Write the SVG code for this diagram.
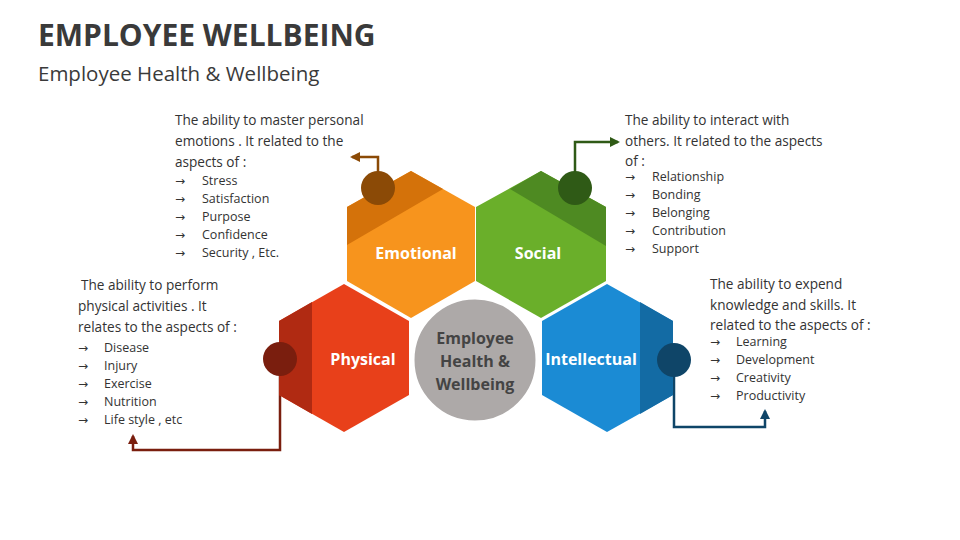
<svg xmlns="http://www.w3.org/2000/svg" width="960" height="540" viewBox="0 0 960 540">
<style>
text{font-family:"Open Sans","Liberation Sans",sans-serif;fill:#333}
.p{font-size:13.6px}
.l{font-size:12.5px}
.ar{font-family:"DejaVu Sans",sans-serif;font-size:12px}
.h{font-size:16px;font-weight:bold;fill:#fff;text-anchor:middle}
.c{font-size:16px;font-weight:bold;fill:#444;text-anchor:middle}
.ln{fill:none;stroke-width:2.5}
</style>
<defs>
<marker id="a1" viewBox="0 0 10 10" refX="8" refY="5" markerWidth="4" markerHeight="4" orient="auto"><path d="M0,0L10,5L0,10z" fill="#8B4A06"/></marker>
<marker id="a2" viewBox="0 0 10 10" refX="8" refY="5" markerWidth="4" markerHeight="4" orient="auto"><path d="M0,0L10,5L0,10z" fill="#2F5A16"/></marker>
<marker id="a3" viewBox="0 0 10 10" refX="8" refY="5" markerWidth="4" markerHeight="4" orient="auto"><path d="M0,0L10,5L0,10z" fill="#7A1E0E"/></marker>
<marker id="a4" viewBox="0 0 10 10" refX="8" refY="5" markerWidth="4" markerHeight="4" orient="auto"><path d="M0,0L10,5L0,10z" fill="#0F4568"/></marker>
</defs>
<rect width="960" height="540" fill="#fff"/>
<text x="38" y="46" style="font-size:30px;font-weight:bold;fill:#3a3a3a">EMPLOYEE WELLBEING</text>
<text x="38" y="81" style="font-size:20.5px;fill:#3a3a3a">Employee Health &amp; Wellbeing</text>

<g id="connectors">
<path class="ln" stroke="#8B4A06" d="M378,172V157H352" marker-end="url(#a1)"/>
<path class="ln" stroke="#2F5A16" d="M575,172V142H618" marker-end="url(#a2)"/>
<path class="ln" stroke="#7A1E0E" d="M280,375V450H133V436" marker-end="url(#a3)"/>
<path class="ln" stroke="#0F4568" d="M674,376V427H765V411" marker-end="url(#a4)"/>
</g>

<g id="emotional">
<polygon points="411,171 475,207 475,281 411,318 347,281 347,207" fill="#F7941D"/>
<polygon points="347,245 347,207 411,171 443,189" fill="#D4720A"/>
<circle cx="378" cy="188" r="17" fill="#8B4A06"/>
<text class="h" x="416" y="259">Emotional</text>
<text class="p" x="175" y="125">The ability to master personal</text>
<text class="p" x="175" y="146">emotions . It related to the</text>
<text class="p" x="175" y="167">aspects of :</text>
<text class="ar" x="175" y="185">→</text><text class="l" x="202" y="185">Stress</text>
<text class="ar" x="175" y="203">→</text><text class="l" x="202" y="203">Satisfaction</text>
<text class="ar" x="175" y="221">→</text><text class="l" x="202" y="221">Purpose</text>
<text class="ar" x="175" y="239">→</text><text class="l" x="202" y="239">Confidence</text>
<text class="ar" x="175" y="257">→</text><text class="l" x="202" y="257">Security , Etc.</text>
</g>

<g id="social">
<polygon points="541,171 606,207 606,281 541,318 476,281 476,207" fill="#6AAF2A"/>
<polygon points="510,189 541,171 606,207 606,246" fill="#4E8A22"/>
<circle cx="575" cy="188" r="17" fill="#2F5A16"/>
<text class="h" x="538" y="259">Social</text>
<text class="p" x="625" y="125">The ability to interact with</text>
<text class="p" x="625" y="146">others. It related to the aspects</text>
<text class="p" x="625" y="166">of :</text>
<text class="ar" x="625" y="181">→</text><text class="l" x="652" y="181">Relationship</text>
<text class="ar" x="625" y="199">→</text><text class="l" x="652" y="199">Bonding</text>
<text class="ar" x="625" y="217">→</text><text class="l" x="652" y="217">Belonging</text>
<text class="ar" x="625" y="235">→</text><text class="l" x="652" y="235">Contribution</text>
<text class="ar" x="625" y="253">→</text><text class="l" x="652" y="253">Support</text>
</g>

<g id="physical">
<polygon points="344,284 409,321 409,395 344,432 279,395 279,321" fill="#E8401A"/>
<polygon points="279,321 312,302 312,414 279,395" fill="#B02A12"/>
<circle cx="280" cy="359" r="17" fill="#7A1E0E"/>
<text class="h" x="363" y="365">Physical</text>
<text class="p" x="81" y="290">The ability to perform</text>
<text class="p" x="78" y="311">physical activities . It</text>
<text class="p" x="78" y="332">relates to the aspects of :</text>
<text class="ar" x="78" y="352">→</text><text class="l" x="104" y="352">Disease</text>
<text class="ar" x="78" y="370">→</text><text class="l" x="104" y="370">Injury</text>
<text class="ar" x="78" y="388">→</text><text class="l" x="104" y="388">Exercise</text>
<text class="ar" x="78" y="406">→</text><text class="l" x="104" y="406">Nutrition</text>
<text class="ar" x="78" y="424">→</text><text class="l" x="104" y="424">Life style , etc</text>
</g>

<g id="intellectual">
<polygon points="607,284 673,321 673,395 607,432 542,395 542,321" fill="#1B8BD4"/>
<polygon points="640,302 673,321 673,395 640,414" fill="#136BA4"/>
<circle cx="674" cy="360" r="17" fill="#0F4568"/>
<text class="h" x="591" y="365">Intellectual</text>
<text class="p" x="710" y="289">The ability to expend</text>
<text class="p" x="710" y="310">knowledge and skills. It</text>
<text class="p" x="710" y="330">related to the aspects of :</text>
<text class="ar" x="710" y="346">→</text><text class="l" x="736" y="346">Learning</text>
<text class="ar" x="710" y="364">→</text><text class="l" x="736" y="364">Development</text>
<text class="ar" x="710" y="382">→</text><text class="l" x="736" y="382">Creativity</text>
<text class="ar" x="710" y="400">→</text><text class="l" x="736" y="400">Productivity</text>
</g>

<g id="center">
<circle cx="475" cy="360" r="62" fill="#ADA9A8" stroke="#fff" stroke-width="3"/>
<text class="c" x="475" y="344">Employee</text>
<text class="c" x="475" y="367">Health &amp;</text>
<text class="c" x="475" y="390">Wellbeing</text>
</g>
</svg>
